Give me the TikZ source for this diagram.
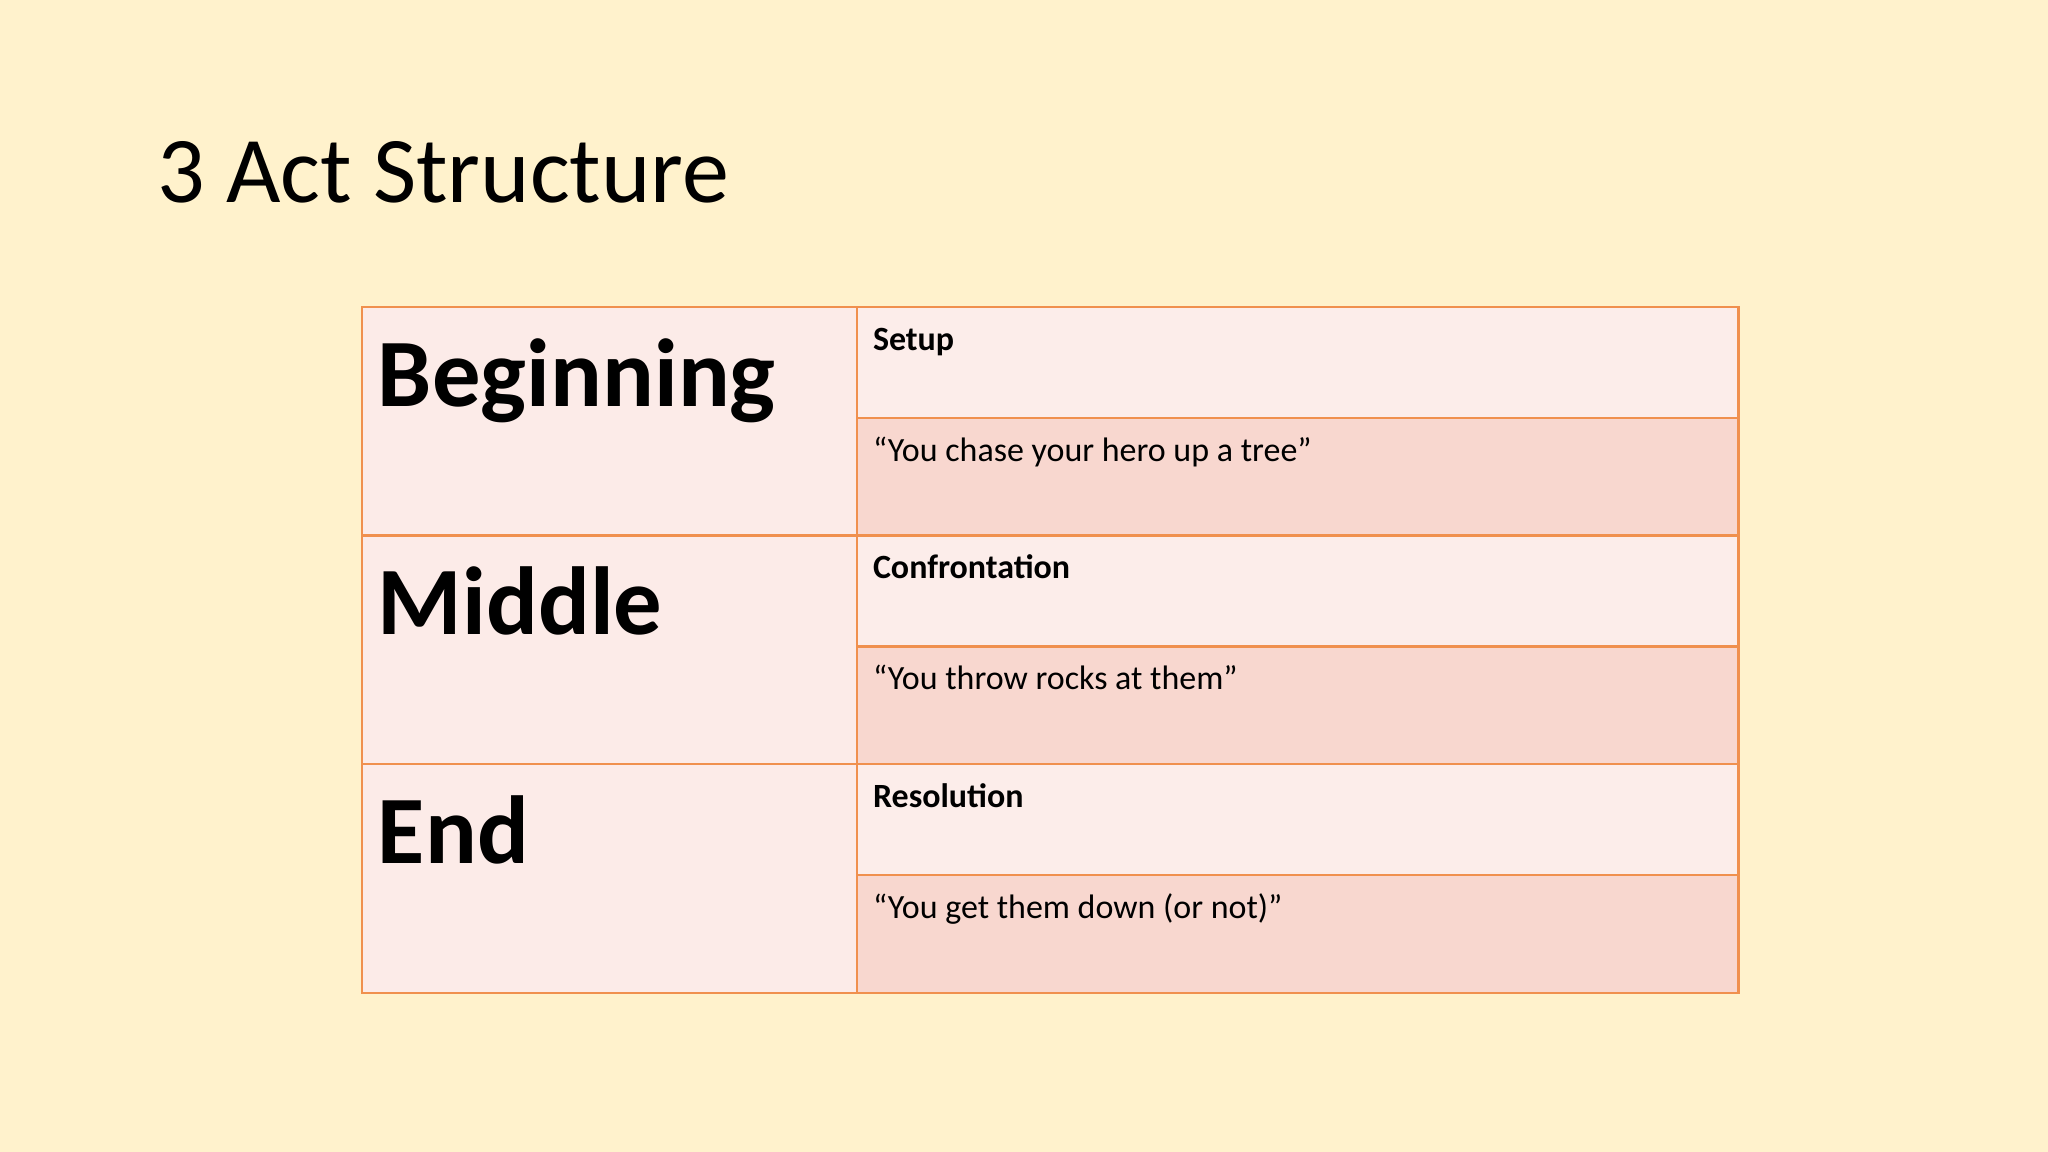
\documentclass[tikz,border=0pt]{standalone}
\usepackage{fontspec}
\setmainfont{Carlito}
\definecolor{bg}{HTML}{FFF2CC}
\definecolor{lcell}{HTML}{FCEBE8}
\definecolor{rlight}{HTML}{FCEDEA}
\definecolor{rdark}{HTML}{F8D7CF}
\definecolor{bord}{HTML}{F0904E}
\begin{document}
\begin{tikzpicture}[x=0.5pt,y=-0.5pt,
  cellbox/.style={draw=bord,line width=0.8pt},
  big/.style={anchor=base west,inner sep=0,font=\fontsize{37}{40}\selectfont\bfseries},
  head/.style={anchor=base west,inner sep=0,font=\fontsize{13}{15}\selectfont\bfseries},
  quote/.style={anchor=base west,inner sep=0,font=\fontsize{13}{15}\selectfont}]
\fill[bg] (0,0) rectangle (1568,882);
\useasboundingbox (0,0) rectangle (1568,882);
\node[anchor=base west,inner sep=0,font=\fontsize{36}{40}\selectfont] (title) at (120,155) {3 Act Structure};
\foreach \t/\h/\q/\i in {235/Setup/{“You chase your hero up a tree”}/1,410/Confrontation/{“You throw rocks at them”}/2,585/Resolution/{“You get them down (or not)”}/3}{
  \fill[lcell] (277,\t) rectangle (656,\t+175);
  \fill[rlight] (656,\t) rectangle (1331,\t+85);
  \fill[rdark] (656,\t+85) rectangle (1331,\t+175);
  \draw[cellbox] (277,\t) rectangle (656,\t+175);
  \draw[cellbox] (656,\t) rectangle (1331,\t+85);
  \draw[cellbox] (656,\t+85) rectangle (1331,\t+175);
  \node[head] (h\i) at (668,\t+33) {\h};
  \node[quote] (q\i) at (668,\t+118) {\q};
}
\node[big] (b1) at (289,311) {Beginning};
\node[big] (b2) at (289,486) {Middle};
\node[big] (b3) at (289,661) {End};
\end{tikzpicture}
\end{document}
